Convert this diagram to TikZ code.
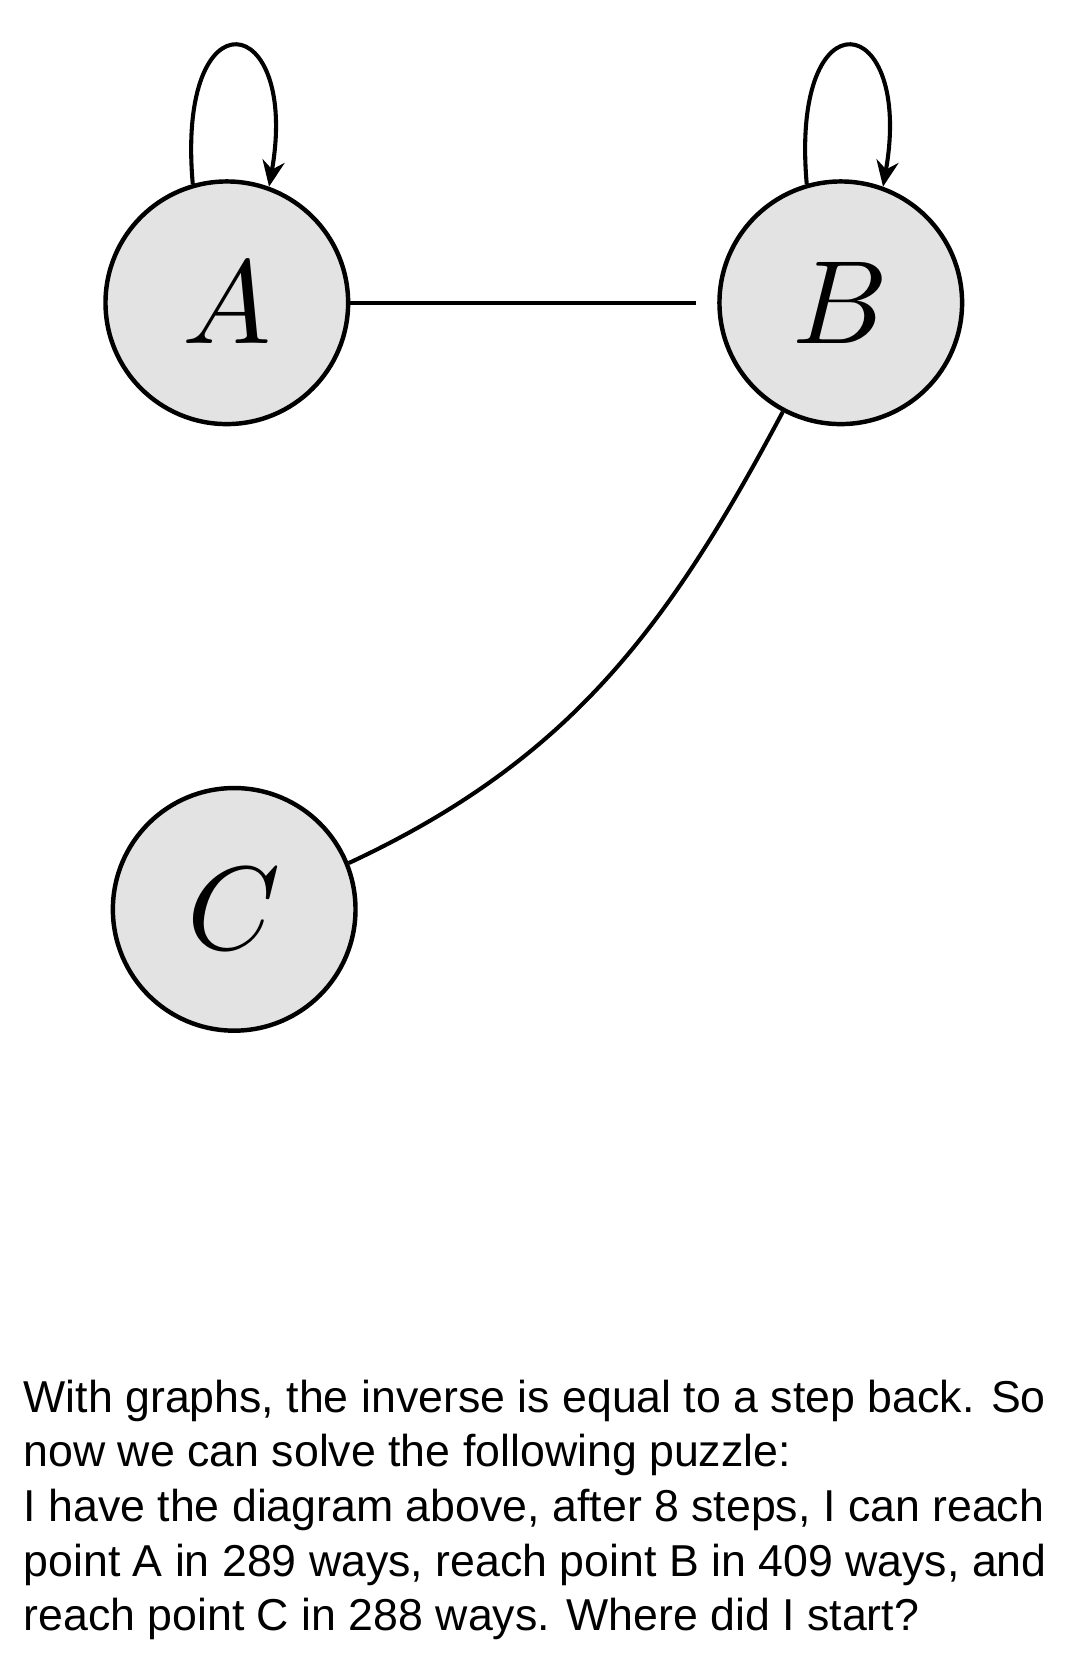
\documentclass[tikz,border=0pt]{standalone}
\usepackage{graphicx}
\usepackage{fontspec}
\setsansfont{Liberation Sans}
\usetikzlibrary{positioning, arrows.meta}
\newcommand{\bigletter}[1]{\scalebox{6.4}{$#1$}}
\tikzset{
  state/.style={circle, draw, line width=2.4pt, fill=gray!22, minimum size=4.6cm, inner sep=0pt},
  link/.style={line width=2.2pt},
  selfloop/.style={line width=2.2pt, -{Stealth[length=14pt,width=12pt]}}
}
\begin{document}
\begin{tikzpicture}
    \useasboundingbox (0,0) rectangle (20.48,-31.68); %fixe la page
    \node[state] (A) at (4.3,-5.74) {\bigletter{A}};
    \node[state] (B) at (15.94,-5.74) {\bigletter{B}};
    \node[state] (C) at (4.44,-17.24) {\bigletter{C}};
    \draw[link, shorten >=0.4cm] (A) -- (B);
    \draw[link] (B.242) to[out=242,in=25] (C.22);
    \draw[selfloop] (A.106) .. controls +(95:3.7) and +(80:3.4) .. (A.70);
    \draw[selfloop] (B.106) .. controls +(95:3.7) and +(80:3.4) .. (B.70);
    \node[anchor=north west, align=left, inner sep=0pt, font=\sffamily\fontsize{24.1}{29.5}\selectfont] (txt) at (0.44,-26.15)
      {With graphs, the inverse is equal to a step back. So\\
       now we can solve the following puzzle:\\
       I have the diagram above, after 8 steps, I can reach\\
       point A in 289 ways, reach point B in 409 ways, and\\
       reach point C in 288 ways. Where did I start?};
\end{tikzpicture}
\end{document}
